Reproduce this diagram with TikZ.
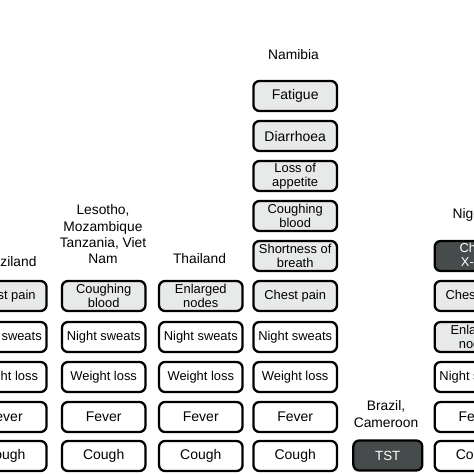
\documentclass[tikz,border=0pt]{standalone}
\usepackage{fontspec}
\newfontfamily\lsans{Liberation Sans}
\definecolor{lightbox}{HTML}{E8E9E9}
\definecolor{darkbox}{HTML}{464C4C}
\begin{document}
\begin{tikzpicture}[x=1pt,y=-1pt,
  sym/.style={draw=black, line width=2.3pt, rounded corners=6pt, minimum width=83.5pt,
    minimum height=30pt, inner sep=0pt, align=center, fill=white,
    font=\lsans\fontsize{12.9}{14}\selectfont},
  bigtxt/.style={font=\lsans\fontsize{14}{16}\selectfont},
  greybox/.style={sym, fill=lightbox},
  darkboxst/.style={sym, fill=darkbox, text=white},
  country/.style={align=center, inner sep=0pt, font=\lsans\fontsize{13.8}{16.3}\selectfont}]
\useasboundingbox (0,0) rectangle (474,474);
\clip (0,0) rectangle (474,474);
\fill[white] (0,0) rectangle (474,474);
% Swaziland
\node[country] (lsw) at (5,261.5) {Swaziland};
\node[greybox] (sw1) at (4.8,296) {Chest pain};
\node[sym] (sw2) at (4.8,337) {Night sweats};
\node[sym] (sw3) at (4.8,377) {Weight loss};
\node[sym, bigtxt] (sw4) at (4.8,417) {Fever};
\node[sym, bigtxt] (sw5) at (4.8,456) {Cough};
% Lesotho etc.
\node[country] (lle) at (103,234.5) {Lesotho,\\Mozambique\\Tanzania, Viet\\Nam};
\node[greybox] (le1) at (103.7,296) {Coughing\\blood};
\node[sym] (le2) at (103.7,337) {Night sweats};
\node[sym] (le3) at (103.7,377) {Weight loss};
\node[sym, bigtxt] (le4) at (103.7,417) {Fever};
\node[sym, bigtxt] (le5) at (103.7,456) {Cough};
% Thailand
\node[country] (lth) at (199.5,259) {Thailand};
\node[greybox] (th1) at (200.8,296) {Enlarged\\nodes};
\node[sym] (th2) at (200.8,337) {Night sweats};
\node[sym] (th3) at (200.8,377) {Weight loss};
\node[sym, bigtxt] (th4) at (200.8,417) {Fever};
\node[sym, bigtxt] (th5) at (200.8,456) {Cough};
% Namibia
\node[country] (lna) at (293.5,55) {Namibia};
\node[greybox, bigtxt] (na1) at (295.2,96) {Fatigue};
\node[greybox, bigtxt] (na2) at (295.2,136) {Diarrhoea};
\node[greybox] (na3) at (295.2,176) {Loss of\\appetite};
\node[greybox] (na4) at (295.2,216) {Coughing\\blood};
\node[greybox] (na5) at (295.2,256) {Shortness of\\breath};
\node[greybox] (na6) at (295.2,296) {Chest pain};
\node[sym] (na7) at (295.2,337) {Night sweats};
\node[sym] (na8) at (295.2,377) {Weight loss};
\node[sym, bigtxt] (na9) at (295.2,417) {Fever};
\node[sym, bigtxt] (na10) at (295.2,456) {Cough};
% Brazil, Cameroon
\node[country] (lbr) at (386,414) {Brazil,\\Cameroon};
\node[darkboxst, minimum width=69pt, font=\lsans\fontsize{13.3}{15}\selectfont] (br1) at (387.8,455.5) {TST};
% Nigeria
\node[country] (lng) at (474.5,215) {Nigeria};
\node[darkboxst] (ng1) at (476.4,256) {Chest\\X-ray};
\node[greybox] (ng2) at (476.4,296) {Chest pain};
\node[greybox] (ng3) at (476.4,337) {Enlarged\\nodes};
\node[sym] (ng4) at (476.4,377) {Night sweats};
\node[sym, bigtxt] (ng5) at (476.4,417) {Fever};
\node[sym, bigtxt] (ng6) at (476.4,456) {Cough};
\end{tikzpicture}
\end{document}
